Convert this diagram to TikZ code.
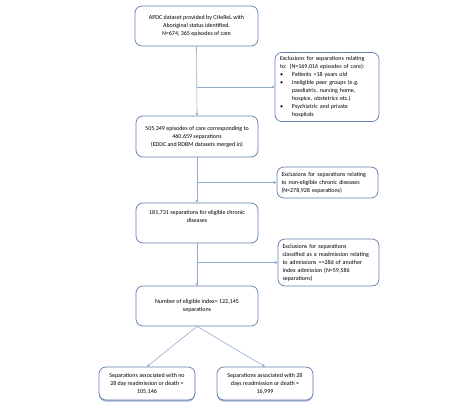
\documentclass[tikz,border=0pt]{standalone}
\usepackage{fontspec}
\setmainfont{Carlito}
\usetikzlibrary{arrows.meta,shadows}
\definecolor{boxline}{HTML}{5F7DAA}
\definecolor{conline}{HTML}{93AACF}
\definecolor{shadowc}{HTML}{9FB4D6}
\begin{document}
\begin{tikzpicture}[x=1pt,y=-1pt,
  box/.style={draw=boxline, line width=0.7pt, rounded corners=7pt, fill=white,
    font=\fontsize{6}{8}\selectfont, inner sep=4pt},
  cbox/.style={box, align=center},
  lbox/.style={box, align=left},
  shbox/.style={drop shadow={shadow xshift=0pt, shadow yshift=-1.6pt, fill=shadowc, opacity=1}},
  conn/.style={draw=conline, line width=0.6pt, -{Stealth[length=3pt,width=3pt,fill=boxline]}}]
\useasboundingbox (0,0) rectangle (474,403);
\node[cbox, minimum width=123pt, minimum height=40pt] (b1) at (196.5,26)
  {APDC dataset provided by CHeReL with\\Aboriginal status identified.\\N=674, 365 episodes of care};
\node[lbox, minimum width=104pt, minimum height=68pt, text width=94pt] (b2) at (327,87)
  {Exclusions for separations relating\\to: (N=169,016 episodes of care):\\
   \makebox[12pt][l]{\textbullet}Patients <18 years old\\
   \makebox[12pt][l]{\textbullet}Ineligible peer groups (e.g.\\
   \makebox[12pt][l]{}paediatric, nursing home,\\
   \makebox[12pt][l]{}hospice, obstetrics etc.)\\
   \makebox[12pt][l]{\textbullet}Psychiatric and private\\
   \makebox[12pt][l]{}hospitals};
\node[cbox, minimum width=122pt, minimum height=41pt] (b3) at (197,136.5)
  {505,349 episodes of care corresponding to\\460,659 separations\\(EDDC and RDBM datasets merged in)};
\node[lbox, minimum width=101pt, minimum height=31pt, text width=92pt] (b4) at (327.5,182.5)
  {Exclusions for separations relating\\to non-eligible chronic diseases\\(N=278,928 separations)};
\node[cbox, minimum width=122pt, minimum height=40pt] (b5) at (197,223)
  {181,731 separations for eligible chronic\\diseases\\[6pt]};
\node[lbox, minimum width=101pt, minimum height=47pt, text width=92pt] (b6) at (328.5,262.5)
  {Exclusions for separations\\classified as a readmission relating\\to admissions <=28d of another\\index admission (N=59,586\\separations)};
\node[cbox, minimum width=122pt, minimum height=40pt] (b7) at (197,306)
  {Number of eligible index= 122,145\\separations};
\node[cbox, shbox, minimum width=96pt, minimum height=33pt] (b8) at (147,383.5)
  {Separations associated with no\\28 day readmission or death =\\105,146};
\node[cbox, shbox, minimum width=96pt, minimum height=33pt] (b9) at (265,383.5)
  {Separations associated with 28\\days readmission or death =\\16,999};
\draw[conn] (b1.south) -- (b3.north);
\draw[conn] (b1.south |- b2.west) -- (b2.west);
\draw[conn] (b3.south) -- (b5.north);
\draw[conn] (b3.south |- b4.west) -- (b4.west);
\draw[conn] (b5.south) -- (b7.north);
\draw[conn] (b5.south |- b6.west) -- (b6.west);
\draw[conn] (b7.south) -- (b8.north);
\draw[conn] (b7.south) -- (b9.north);
\end{tikzpicture}
\end{document}
